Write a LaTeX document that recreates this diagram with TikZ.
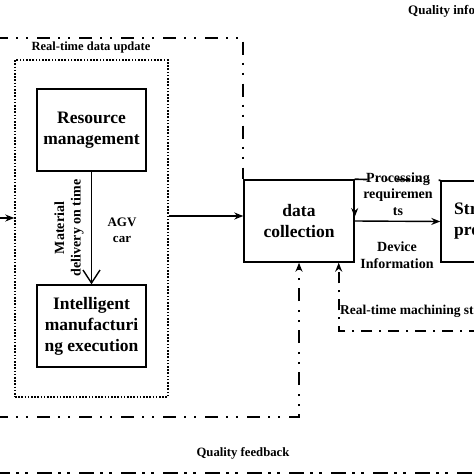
\documentclass[tikz,border=0pt]{standalone}
\usepackage{fontspec}
\setmainfont{Liberation Serif}
\usetikzlibrary{arrows.meta,calc}
\begin{document}
\begin{tikzpicture}[x=1pt,y=-1pt,
  box/.style={draw,line width=1.4pt,inner sep=0pt,align=center,font=\fontsize{17.5}{21}\selectfont\bfseries},
  boxtext/.style={inner sep=0pt,font=\fontsize{17.5}{21}\selectfont\bfseries},
  lbl/.style={inner sep=0pt,align=center,font=\fontsize{14}{16.5}\selectfont\bfseries},
  small/.style={inner sep=0pt,align=center,font=\fontsize{12.5}{14}\selectfont\bfseries},
  dd/.style={line width=1.7pt,dash pattern=on 13pt off 8pt on 2pt off 8pt on 2pt off 9pt},
  dsd/.style={line width=1.7pt,dash pattern=on 11pt off 7pt on 2pt off 7pt},
  dotbox/.style={draw,line width=1.5pt,dash pattern=on 1.6pt off 1.6pt,inner sep=0pt},
  tip/.style={-{Stealth[length=9pt,width=7pt]}},
  conn/.style={line width=1.4pt}
]
\useasboundingbox (0,0) rectangle (474,474);
\clip (0,0) rectangle (474,474);
\fill[white] (0,0) rectangle (474,474);

% inner dotted region
\node[dotbox,minimum width=153pt,minimum height=337pt] (inner) at (91.5,228.5) {};
\node[small] (rtlabel) at (91,47) {Real-time data update};

\node[box,minimum width=109pt,minimum height=82pt] (res) at (91.5,130) {Resource\\management};
\node[box,minimum width=109pt,minimum height=82pt] (int) at (91.5,326) {Intelligent\\manufacturi\\ng execution};
\draw[conn,-{Straight Barb[length=13pt,width=17pt,line width=1.4pt]}] (res) -- (int);
\node[lbl,rotate=90] (mat) at (69,228) {Material\\delivery on time};
\node[lbl,font=\fontsize{13}{16}\selectfont\bfseries] (agv) at (122,230) {AGV\\car};

% data collection
\node[box,minimum width=110pt,minimum height=82pt] (dc) at (299,221) {data\\collection};
\node[box,minimum width=100pt,minimum height=81pt] (str) at (491,221.5) {};
\node[boxtext,anchor=west,align=left] (strtxt) at (454,221.5) {Strategy\\processing};

% left input arrow
\coordinate (lin) at (-2,218);
\draw[conn,tip] (lin) -- (lin -| inner.west);
% inner -> data collection
\draw[conn,tip] ([yshift=5pt]inner.east |- dc.west) -- ([yshift=5pt]dc.west);

% right side of data collection
\draw[dd] (dc.north east) -- (str.north west);
\draw[conn,tip] (dc.north east) -- ([yshift=4pt]dc.east);
\draw[conn,tip] (dc.east) -- (str.west);
\node[lbl] (proc) at (398,194) {Processing\\requiremen\\ts};
\node[lbl] (dev) at (397,255) {Device\\Information};

% top loop
\coordinate (tl) at (-5,38);
\draw[dd] (tl) -- (tl -| dc.north west) -- (dc.north west);

% bottom loop
\coordinate (bl) at (-5,417);
\draw[dd,tip] (bl) -- (bl -| dc.south) -- (dc.south);

% right feedback
\coordinate (rm) at (480,331);
\coordinate (dcin) at ([xshift=-16pt]dc.south east);
\draw[dsd,tip] (rm) -- (rm -| dcin) -- (dcin);
\node[small,anchor=west,font=\fontsize{13.5}{15}\selectfont\bfseries] (rtm) at (340,311) {Real-time machining status};

% quality labels
\node[small,font=\fontsize{12.7}{14}\selectfont\bfseries] (qf) at (243,453) {Quality feedback};
\node[small,anchor=west,font=\fontsize{13}{15}\selectfont\bfseries] (qi) at (408,11) {Quality information};

% bottom thick line
\coordinate (b1) at (-5,476);
\coordinate (b2) at (480,476);
\draw[line width=8pt,dash pattern=on 15pt off 6pt on 3pt off 6pt on 3pt off 9pt] (b1) -- (b2);
\end{tikzpicture}
\end{document}
